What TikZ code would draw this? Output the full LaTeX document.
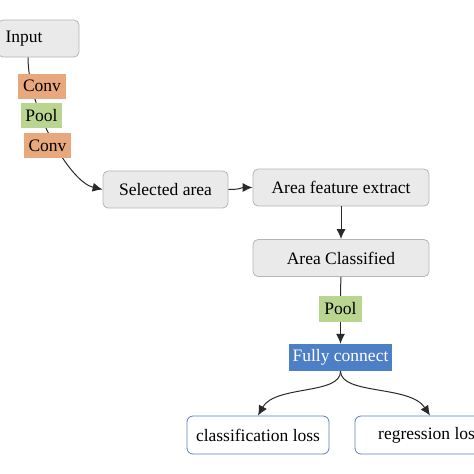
\documentclass[tikz,border=0pt]{standalone}
\usepackage{fontspec}
\setmainfont{Liberation Serif}
\usetikzlibrary{arrows.meta}
\definecolor{boxfill}{HTML}{EAEAEA}
\definecolor{boxline}{HTML}{B5B5B5}
\definecolor{convfill}{HTML}{E8A77C}
\definecolor{poolfill}{HTML}{B9D58F}
\definecolor{fcfill}{HTML}{4D7FC6}
\definecolor{lossline}{HTML}{5D7FB5}
\definecolor{wire}{HTML}{2A2A2A}
\begin{document}
\begin{tikzpicture}[x=1pt, y=-1pt,
    every node/.style={font=\fontsize{17.5}{20}\selectfont, inner sep=0pt},
    stage/.style={draw=boxline, fill=boxfill, rounded corners=5pt, line width=0.8pt, minimum height=37pt},
    layer/.style={minimum height=25pt},
    loss/.style={draw=lossline, fill=white, rounded corners=6pt, line width=0.8pt, minimum height=38pt},
    wire/.style={draw=wire, line width=1pt},
    arr/.style={wire, -{Latex[length=10pt, width=9pt]}}]
  \useasboundingbox (0,0) rectangle (474,474);
  \coordinate (start) at (28,57);
  \node (selected) at (165.5,189.5) [stage, minimum width=125pt] {Selected area};
  \node (extract) at (341,187.5) [stage, minimum width=176pt] {Area feature extract};
  \node (classified) at (341,258) [stage, minimum width=176pt] {Area Classified};
  % backbone curve under the conv/pool layers
  \path[arr] (start) .. controls (28,110) and (70,182) .. (selected.west);
  \node (input) at (38.5,38.5) [stage, minimum width=81pt, text width=66pt, inner xsep=7.5pt, align=left] {Input};
  \node (conv1) at (42,86) [layer, fill=convfill, minimum width=48pt] {Conv};
  \node (pool1) at (41.5,115.5) [layer, fill=poolfill, minimum width=41pt] {Pool};
  \node (conv2) at (47.5,145.5) [layer, fill=convfill, minimum width=47pt] {Conv};
  \node (pool2) at (340.5,309) [layer, fill=poolfill, minimum width=43pt, minimum height=26pt] {Pool};
  \node (fc) at (340.5,357.5) [fill=fcfill, text=white, minimum width=103pt, minimum height=27pt] {Fully connect};
  \node (closs) at (258,435) [loss, minimum width=142pt] {classification loss};
  \node (rloss) at (430,435) [loss, minimum width=150pt] {regression loss};
  % connectors
  \path[arr] (selected.east) .. controls (242,189.5) and (240,187.5) .. (extract.west);
  \path[arr] (extract) -- (classified);
  \path[wire] (classified) -- (pool2);
  \path[arr] (pool2) -- (fc);
  \path[arr] (fc.south) .. controls (341,395) and (275,385) .. (closs.north);
  \path[arr] (fc.south) .. controls (341,395) and (410,385) .. (rloss.north);
\end{tikzpicture}
\end{document}
